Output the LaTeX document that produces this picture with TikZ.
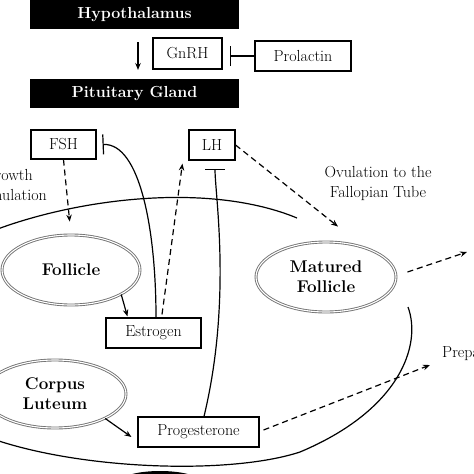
\documentclass[tikz,border=0pt]{standalone}
\usetikzlibrary{arrows.meta,shapes.geometric,calc}
\begin{document}
\begin{tikzpicture}[x=1pt,y=-1pt,
  every node/.style={font=\fontsize{16}{19}\selectfont, inner sep=0pt},
  bar/.style={fill=black, text=white, font=\fontsize{16}{19}\selectfont\bfseries, minimum width=209pt, minimum height=29pt},
  box/.style={draw, line width=1.1pt, minimum height=30pt},
  organ/.style={ellipse, draw=black!55, double=white, double distance=1.1pt, line width=0.9pt, font=\fontsize{17}{20}\selectfont\bfseries, align=center},
  arr/.style={line width=1.2pt, -{Stealth[length=7pt,width=5.5pt]}},
  darr/.style={arr, dash pattern=on 6pt off 4pt},
  inh/.style={line width=1.2pt, -{Bar[width=20pt,line width=1.2pt]}},
  lbl/.style={font=\fontsize{16}{20}\selectfont, align=center},
  curve/.style={line width=1.2pt}]
\useasboundingbox (0,0) rectangle (474,474);
\clip (0,0) rectangle (474,474);

% big outline
\coordinate (c1) at (-5,230);
\coordinate (c2) at (297,218);
\coordinate (c3) at (408,307);
\coordinate (c4) at (-10,438);
\draw[curve] (c1) .. controls (80,198) and (210,182) .. (c2);
\draw[curve] (c3) .. controls (422,345) and (400,410) .. (300,452) .. controls (230,475) and (80,470) .. (c4);

% bottom blob
\fill (160,483) ellipse [x radius=42, y radius=12];

% nodes
\node[bar] (hyp) at (134.5,14.5) {Hypothalamus};
\node[bar] (pit) at (134.5,93.5) {Pituitary Gland};
\node[box, minimum width=69pt, minimum height=31pt] (gnrh) at (187.5,53.5) {GnRH};
\node[box, minimum width=96pt] (prol) at (303,56) {Prolactin};
\node[box, minimum width=65pt, minimum height=29pt] (fsh) at (63.5,144.5) {FSH};
\node[box, minimum width=46pt] (lh) at (212,145) {LH};
\node[box, minimum width=95pt] (estr) at (153.5,333) {Estrogen};
\node[box, minimum width=121pt] (prog) at (198.5,432) {Progesterone};
\node[organ, minimum width=138pt, minimum height=70pt] (foll) at (71,270) {Follicle};
\node[organ, minimum width=140pt, minimum height=70pt] (mat) at (326,277) {Matured\\Follicle};
\node[organ, minimum width=142pt, minimum height=68pt] (corp) at (55,394) {Corpus\\Luteum};

\node[lbl, anchor=east] (gr) at (33,175) {Growth};
\node[lbl, anchor=east] (st) at (47,195) {Stimulation};
\node[lbl] (ovu) at (378,183) {Ovulation to the\\Fallopian Tube};
\node[lbl, anchor=west] (prep) at (442,354) {Preparation};

% connectors
\coordinate (d1) at (138,42);
\coordinate (d2) at (138,70);
\draw[arr] (d1) -- (d2);
\draw[inh, shorten >=7pt] (prol.west) -- (prol.west -| gnrh.east);
\draw[inh] ($(estr.north)+(2.5,0)$) .. controls (156,230) and (140,143) .. ($(fsh.east)+(6,0)$);
\draw[inh] ($(prog.north)+(5.5,0)$) .. controls (232,300) and (215,195) .. ($(lh.south)+(3,8)$);
\draw[darr, shorten >=13pt] (fsh.south) -- (foll.north);
\draw[arr] (foll.-26) -- ($(estr.north west)+(22,-1)$);
\draw[arr] (corp.-26) -- ($(prog.west)+(-6,5)$);
\draw[darr] ($(estr.north)+(8.5,-3)$) -- ($(lh.south west)+(-6,3)$);
\draw[darr] (lh.east) -- ($(mat.north)+(12,-15)$);
\coordinate (mout) at (467,252);
\draw[darr] ($(mat.east)+(11,-5)$) -- (mout);
\coordinate (pout) at (430,365);
\draw[darr] ($(prog.east)+(4,-2)$) -- (pout);
\end{tikzpicture}
\end{document}
